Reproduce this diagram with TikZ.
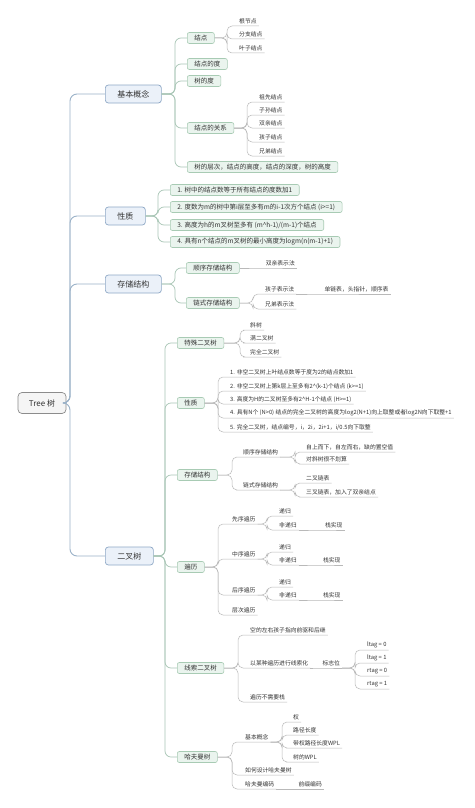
\documentclass[tikz,border=0pt]{standalone}
\usepackage{fontspec}
\setmainfont{Noto Sans CJK SC}
\usetikzlibrary{calc}
\definecolor{txt}{HTML}{333333}
\definecolor{rootfill}{HTML}{F5F5F5}
\definecolor{rootdraw}{HTML}{8C8C8C}
\definecolor{lonefill}{HTML}{EBF1F9}
\definecolor{lonedraw}{HTML}{8EA8C6}
\definecolor{ltwofill}{HTML}{EAF4EE}
\definecolor{ltwodraw}{HTML}{A8CBB4}
\definecolor{rootline}{HTML}{9BB2C8}
\definecolor{midline}{HTML}{A9C6B6}
\definecolor{leafline}{HTML}{B9B9B9}
\tikzset{
  rootbox/.style={draw=rootdraw, fill=rootfill, rounded corners=4pt, line width=0.7pt,
    minimum height=21pt, inner xsep=11pt, font=\fontsize{8}{9}\selectfont, text=txt},
  lone/.style={draw=lonedraw, fill=lonefill, rounded corners=3pt, line width=0.7pt,
    minimum height=18pt, inner xsep=12pt, font=\fontsize{8}{9}\selectfont, text=txt, anchor=west},
  ltwo/.style={draw=ltwodraw, fill=ltwofill, rounded corners=2pt, line width=0.6pt,
    minimum height=11pt, inner xsep=7pt, inner ysep=1pt, font=\fontsize{6.5}{7}\selectfont, text=txt, anchor=west},
  leaf/.style={inner xsep=2pt, inner ysep=1.5pt, font=\fontsize{5.8}{6.5}\selectfont, text=txt, anchor=south west},
  rootlk/.style={draw=rootline, line width=0.9pt, rounded corners=7pt},
  midlk/.style={draw=midline, line width=0.7pt, rounded corners=6pt},
  lflk/.style={draw=leafline, line width=0.5pt, rounded corners=5pt},
}
% #1 style, #2 start anchor, #3 end anchor, #4 bus x
\newcommand\lnk[4][midlk]{\draw[#1] let \p1=(#2) in (#2) -- (#4pt,\y1) |- (#3);}
% leaf link: #1 start anchor, #2 leaf node, #3 bus x
\newcommand\lfl[3]{\draw[lflk] let \p1=(#1) in (#1) -- (#3pt,\y1) |- (#2.south west) -- (#2.south east);}
% straight leaf link
\newcommand\lfs[2]{\draw[lflk] (#1) -- (#2.south west) -- (#2.south east);}
\begin{document}
\begin{tikzpicture}[x=1pt,y=-1pt]
\useasboundingbox (0,0) rectangle (474,808);
\fill[white] (0,0) rectangle (474,808);

% root
\node[rootbox] (R) at (42,403) {Tree 树};

% level 1
\node[lone] (A) at (105,94) {基本概念};
\node[lone] (B) at (105,216) {性质};
\node[lone] (C) at (105,284) {存储结构};
\node[lone] (D) at (105,556) {二叉树};
\lnk[rootlk]{R.east}{A.west}{70}
\lnk[rootlk]{R.east}{B.west}{70}
\lnk[rootlk]{R.east}{C.west}{70}
\lnk[rootlk]{R.east}{D.west}{70}

% ---- 基本概念
\node[ltwo] (A1) at (187,38) {结点};
\node[ltwo] (A2) at (187,64) {结点的度};
\node[ltwo] (A3) at (187,81) {树的度};
\node[ltwo] (A4) at (187,128) {结点的关系};
\node[ltwo] (A5) at (187,167) {树的层次，结点的高度，结点的深度，树的高度};
\foreach \nd in {A1,A2,A3,A4,A5}{\lnk{A.east}{\nd.west}{175}}

\node[leaf] (a11) at (237,26) {根节点};
\node[leaf] (a12) at (237,39) {分支结点};
\node[leaf] (a13) at (237,53) {叶子结点};
\foreach \nd in {a11,a12,a13}{\lfl{A1.east}{\nd}{227}}

\node[leaf] (a41) at (257,102) {祖先结点};
\node[leaf] (a42) at (257,115) {子孙结点};
\node[leaf] (a43) at (257,128) {双亲结点};
\node[leaf] (a44) at (257,142) {孩子结点};
\node[leaf] (a45) at (257,156) {兄弟结点};
\foreach \nd in {a41,a42,a43,a44,a45}{\lfl{A4.east}{\nd}{247}}

% ---- 性质
\node[ltwo] (B1) at (170,190) {1. 树中的结点数等于所有结点的度数加1};
\node[ltwo] (B2) at (170,207) {2. 度数为m的树中第i层至多有m的i-1次方个结点 (i>=1)};
\node[ltwo] (B3) at (170,225) {3. 高度为h的m叉树至多有 (m\textasciicircum h-1)/(m-1)个结点};
\node[ltwo] (B4) at (170,242) {4. 具有n个结点的m叉树的最小高度为logm(n(m-1)+1)};
\foreach \nd in {B1,B2,B3,B4}{\lnk{B.east}{\nd.west}{158}}

% ---- 存储结构
\node[ltwo] (C1) at (186,268) {顺序存储结构};
\node[ltwo] (C2) at (186,303) {链式存储结构};
\foreach \nd in {C1,C2}{\lnk{C.east}{\nd.west}{175}}
\node[leaf] (c11) at ([xshift=24pt]C1.east) {双亲表示法};
\lfs{C1.east}{c11}
\node[leaf] (c21) at (263,294) {孩子表示法};
\node[leaf] (c22) at (263,309) {兄弟表示法};
\foreach \nd in {c21,c22}{\lfl{C2.east}{\nd}{253}}
\node[leaf] (c21b) at ([xshift=26pt]c21.south east) {单链表，头指针，顺序表};
\lfs{c21.south east}{c21b}

% ---- 二叉树
\node[ltwo] (D1) at (177,343) {特殊二叉树};
\node[ltwo] (D2) at (177,403) {性质};
\node[ltwo] (D3) at (177,475) {存储结构};
\node[ltwo] (D4) at (177,567) {遍历};
\node[ltwo] (D5) at (177,668) {线索二叉树};
\node[ltwo] (D6) at (177,757) {哈夫曼树};
\foreach \nd in {D1,D2,D3,D4,D5,D6}{\lnk{D.east}{\nd.west}{165}}

% 特殊二叉树
\node[leaf] (d11) at (248,330) {斜树};
\node[leaf] (d12) at (248,343) {满二叉树};
\node[leaf] (d13) at (248,357) {完全二叉树};
\foreach \nd in {d11,d12,d13}{\lfl{D1.east}{\nd}{240}}

% 性质
\node[leaf] (d21) at (228,377) {1. 非空二叉树上叶结点数等于度为2的结点数加1};
\node[leaf] (d22) at (228,391) {2. 非空二叉树上第k层上至多有2\textasciicircum(k-1)个结点 (k>=1)};
\node[leaf] (d23) at (228,404) {3. 高度为H的二叉树至多有2\textasciicircum H-1个结点 (H>=1)};
\node[leaf] (d24) at (228,418) {4. 具有N个 (N>0) 结点的完全二叉树的高度为log2(N+1)向上取整或者log2N向下取整+1};
\node[leaf] (d25) at (228,432) {5. 完全二叉树，结点编号，i，2i，2i+1，i/0.5向下取整};
\foreach \nd in {d21,d22,d23,d24,d25}{\lfl{D2.east}{\nd}{218}}

% 存储结构
\node[leaf] (d31) at (241,457) {顺序存储结构};
\node[leaf] (d32) at (241,490) {链式存储结构};
\foreach \nd in {d31,d32}{\lfl{D3.east}{\nd}{232}}
\node[leaf] (d311) at (304,452) {自上而下，自左而右，缺的置空值};
\node[leaf] (d312) at (304,464) {对斜树很不划算};
\foreach \nd in {d311,d312}{\lfl{d31.south east}{\nd}{295}}
\node[leaf] (d321) at (304,483) {二叉链表};
\node[leaf] (d322) at (304,497) {三叉链表，加入了双亲结点};
\foreach \nd in {d321,d322}{\lfl{d32.south east}{\nd}{295}}

% 遍历
\node[leaf] (d41) at (230,524) {先序遍历};
\node[leaf] (d42) at (230,559) {中序遍历};
\node[leaf] (d43) at (230,595) {后序遍历};
\node[leaf] (d44) at (230,615) {层次遍历};
\foreach \nd in {d41,d42,d43,d44}{\lfl{D4.east}{\nd}{218}}
\node[leaf] (d411) at (277,516) {递归};
\node[leaf] (d412) at (277,530) {非递归};
\foreach \nd in {d411,d412}{\lfl{d41.south east}{\nd}{267}}
\node[leaf] (d412b) at ([xshift=24pt]d412.south east) {栈实现};
\lfs{d412.south east}{d412b}
\node[leaf] (d421) at (277,552) {递归};
\node[leaf] (d422) at (277,565) {非递归};
\foreach \nd in {d421,d422}{\lfl{d42.south east}{\nd}{267}}
\node[leaf] (d422b) at ([xshift=22pt]d422.south east) {栈实现};
\lfs{d422.south east}{d422b}
\node[leaf] (d431) at (277,587) {递归};
\node[leaf] (d432) at (277,600) {非递归};
\foreach \nd in {d431,d432}{\lfl{d43.south east}{\nd}{267}}
\node[leaf] (d432b) at ([xshift=22pt]d432.south east) {栈实现};
\lfs{d432.south east}{d432b}

% 线索二叉树
\node[leaf] (d51) at (248,635) {空的左右孩子指向前驱和后继};
\node[leaf] (d52) at (248,668) {以某种遍历进行线索化};
\node[leaf] (d53) at (248,702) {遍历不需要栈};
\foreach \nd in {d51,d52,d53}{\lfl{D5.east}{\nd}{238}}
\node[leaf] (d52b) at ([xshift=10pt]d52.south east) {标志位};
\lfs{d52.south east}{d52b}
\node[leaf] (d5b1) at (365,650) {ltag = 0};
\node[leaf] (d5b2) at (365,663) {ltag = 1};
\node[leaf] (d5b3) at (365,676) {rtag = 0};
\node[leaf] (d5b4) at (365,689) {rtag = 1};
\foreach \nd in {d5b1,d5b2,d5b3,d5b4}{\lfl{d52b.south east}{\nd}{355}}

% 哈夫曼树
\node[leaf] (d61) at (243,742) {基本概念};
\node[leaf] (d62) at (243,775) {如何设计哈夫曼树};
\node[leaf] (d63) at (243,789) {哈夫曼编码};
\foreach \nd in {d61,d62,d63}{\lfl{D6.east}{\nd}{232}}
\node[leaf] (d611) at (291,722) {权};
\node[leaf] (d612) at (291,735) {路径长度};
\node[leaf] (d613) at (291,748) {带权路径长度WPL};
\node[leaf] (d614) at (291,762) {树的WPL};
\foreach \nd in {d611,d612,d613,d614}{\lfl{d61.south east}{\nd}{282}}
\node[leaf] (d63b) at ([xshift=20pt]d63.south east) {前缀编码};
\lfs{d63.south east}{d63b}
\end{tikzpicture}
\end{document}
